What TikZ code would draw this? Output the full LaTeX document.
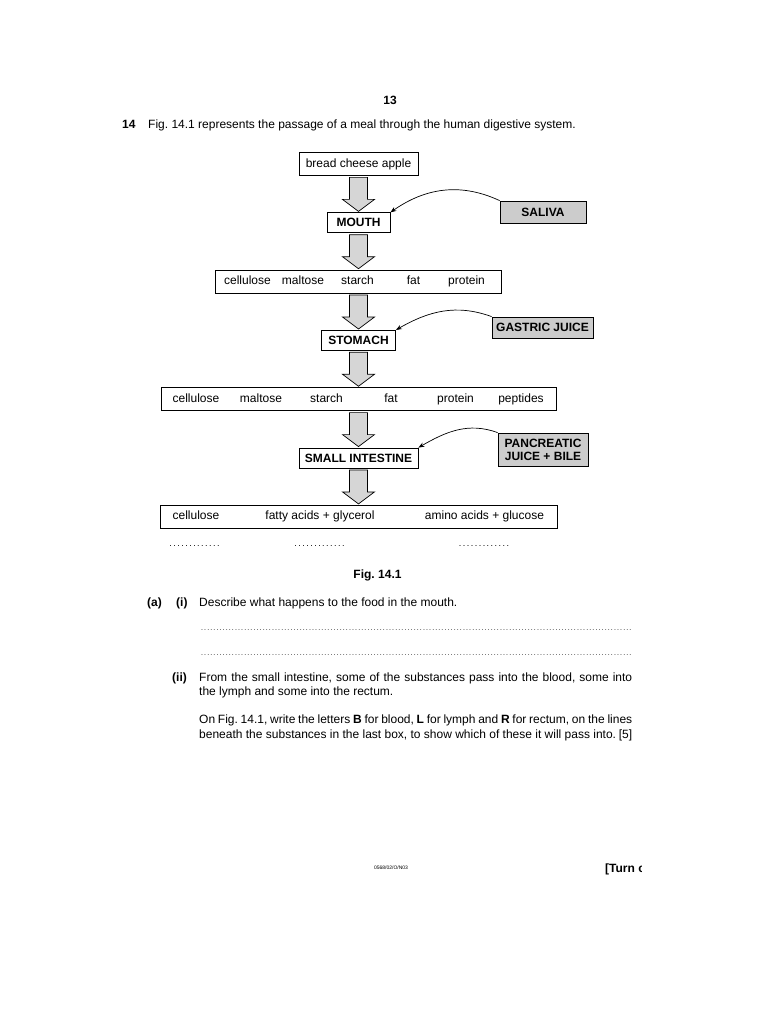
\documentclass[tikz,border=0pt]{standalone}
\usepackage{fontspec}
\setmainfont{Liberation Sans}
\frenchspacing
\usetikzlibrary{shapes, arrows.meta, positioning, calc}

\tikzset{
  foodbox/.style={draw, line width=0.8pt, minimum height=23pt, inner sep=1pt, font=\fontsize{12}{13}\selectfont},
  organ/.style={draw, line width=0.8pt, minimum height=20pt, inner sep=1pt, font=\fontsize{12}{13}\selectfont\bfseries},
  juice/.style={draw, line width=0.8pt, fill=gray!40, inner sep=1pt, align=center, font=\fontsize{12}{13}\selectfont\bfseries},
  word/.style={inner sep=0pt, text height=8.5pt, text depth=2.5pt, font=\fontsize{12}{13}\selectfont},
  fat arrow/.style={draw, line width=0.7pt, fill=gray!32},
  txt/.style={inner sep=0pt, anchor=base west, font=\fontsize{12}{14}\selectfont},
  boldtxt/.style={txt, font=\fontsize{12}{14}\selectfont\bfseries},
  dots/.style={inner sep=0pt, anchor=base, font=\fontsize{9}{9}\selectfont},
}

% broad grey arrow from the bottom of one box to the top of the next
\newcommand{\fatarrow}[2]{%
  \path[fat arrow] let \p1=(#1.south), \p2=(#2.north) in
    (\x1-9pt,\y1-1.5pt) -- (\x1-9pt,\y2+13pt) -- (\x1-16pt,\y2+13pt)
    -- (\x1,\y2+1pt) -- (\x1+16pt,\y2+13pt) -- (\x1+9pt,\y2+13pt)
    -- (\x1+9pt,\y1-1.5pt) -- cycle;}

\begin{document}
\begin{tikzpicture}[x=1pt, y=-1pt, node distance=36.5pt, >={Stealth[length=6pt,width=4.5pt]}]
	\useasboundingbox (0,0) rectangle (768,1024);
	\fill[white] (0,0) rectangle (768,1024);

	% header
	\node[font=\fontsize{12}{13}\selectfont\bfseries] (page) at (390,100) {13};
	\node[boldtxt] (qnum)  at (122,129) {14};
	\node[txt]     (intro) at (148,129) {Fig. 14.1 represents the passage of a meal through the human digestive system.};

	% the flow chart
	\node[foodbox, minimum width=119pt] (meal) at (358.5,164) {bread cheese apple};
	\node[organ, minimum width=63pt, below=of meal]       (mouth)    {MOUTH};
	\node[foodbox, minimum width=286pt, below=of mouth]   (food1)    {};
	\node[organ, minimum width=74pt, below=of food1]      (stomach)  {STOMACH};
	\node[foodbox, minimum width=395pt, below=of stomach] (food2)    {};
	\node[organ, minimum width=119pt, below=of food2]     (smallint) {SMALL INTESTINE};
	\node[foodbox, minimum width=397pt, below=of smallint] (food3)   {};

	\foreach \w/\x [count=\i] in {cellulose/247.5, maltose/303, starch/357.5, fat/413.5, protein/466.5}
		\node[word] (food1-\i) at (\x,0 |- food1) {\w};
	\foreach \w/\x [count=\i] in {cellulose/196, maltose/261, starch/326.5, fat/391, protein/455.5, peptides/521}
		\node[word] (food2-\i) at (\x,0 |- food2) {\w};
	\foreach \w/\x [count=\i] in {cellulose/196, fatty acids + glycerol/320, amino acids + glucose/484.5}
		\node[word] (food3-\i) at (\x,0 |- food3) {\w};
	\foreach \x [count=\i] in {194.5, 319.5, 484}
		\node[dots] (blank\i) at (\x,546) {\makebox[55pt]{\dotfill}};

	\fatarrow{meal}{mouth}
	\fatarrow{mouth}{food1}
	\fatarrow{food1}{stomach}
	\fatarrow{stomach}{food2}
	\fatarrow{food2}{smallint}
	\fatarrow{smallint}{food3}

	\node[juice, minimum width=86pt, minimum height=22pt]  (saliva)     at (543,212)     {SALIVA};
	\node[juice, minimum width=101pt, minimum height=21pt] (gastric)    at (542.5,327.5) {GASTRIC JUICE};
	\node[juice, minimum width=90pt, minimum height=33pt]  (pancreatic) at (543,449.5)   {PANCREATIC\\JUICE + BILE};

	\draw[->, line width=0.7pt] (saliva.north west)     to[out=155, in=35] (mouth.north east);
	\draw[->, line width=0.7pt] (gastric.north west)    to[out=160, in=30] (stomach.north east);
	\draw[->, line width=0.7pt] (pancreatic.north west) to[out=160, in=30] (smallint.north east);

	\node[font=\fontsize{12}{13}\selectfont\bfseries] (caption) at (377.5,575) {Fig. 14.1};

	% questions
	\node[boldtxt] (parta) at (147,606) {(a)};
	\node[boldtxt] (parti) at (176,606) {(i)};
	\node[txt]     (qi)    at (199,606) {Describe what happens to the food in the mouth.};
	\node[txt, font=\fontsize{7}{7}\selectfont] (line1) at (199,630) {\makebox[434pt]{\dotfill}};
	\node[txt, font=\fontsize{7}{7}\selectfont] (line2) at (199,655) {\makebox[434pt]{\dotfill}};

	\node[boldtxt] (partii) at (172,681) {(ii)};
	\node[txt] (qii1) at (199,681) {\makebox[433pt][s]{From the small intestine, some of the substances pass into the blood, some into}};
	\node[txt] (qii2) at (199,695) {the lymph and some into the rectum.};
	\node[txt] (qii3) at (199,723) {\makebox[433pt][s]{On Fig. 14.1, write the letters \textbf{B} for blood, \textbf{L} for lymph and \textbf{R} for rectum, on the lines}};
	\node[txt] (qii4) at (199,738) {\makebox[433pt][l]{beneath the substances in the last box, to show which of these it will pass into.\hfill[5]}};

	% footer
	\node[font=\fontsize{5}{6}\selectfont] (code) at (391,868) {0568/02/O/N03};
	\begin{scope}
		\clip (590,850) rectangle (641,890);
		\node[boldtxt] (turn) at (605,872) {[Turn over};
	\end{scope}

\end{tikzpicture}
\end{document}
